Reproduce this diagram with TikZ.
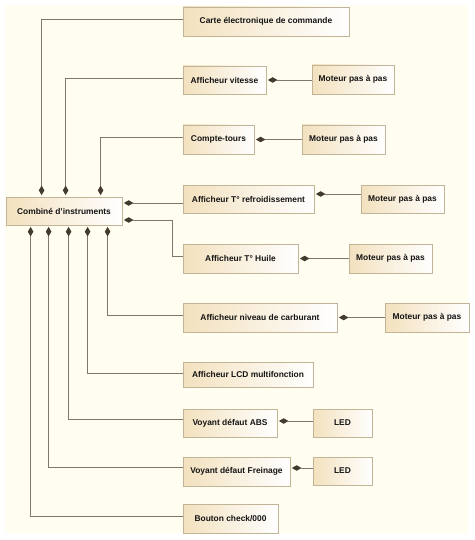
\documentclass[tikz,border=0pt]{standalone}
\usepackage{fontspec}
\setmainfont{Liberation Sans}
\usetikzlibrary{arrows.meta,calc}
\definecolor{bgcream}{HTML}{FFFEF0}
\definecolor{boxbeige}{HTML}{F3E1BE}
\definecolor{boxborder}{HTML}{C2B497}
\definecolor{linecol}{HTML}{80786A}
\definecolor{tipcol}{HTML}{433B2C}
\tikzset{
  box/.style={draw=boxborder, line width=0.8pt, left color=boxbeige, right color=white,
    minimum height=28pt, inner sep=0pt, text=black!92,
    font=\fontsize{8.4}{10}\selectfont\bfseries},
  conn/.style={draw=linecol, line width=0.9pt},
  dstart/.style={conn, {Diamond[length=9.5pt,width=5.5pt,color=tipcol]}-, shorten <=1.5pt},
  dend/.style={conn, -{Diamond[length=9.5pt,width=5.5pt,color=tipcol]}, shorten >=1.5pt},
}
\begin{document}
\begin{tikzpicture}[x=1pt,y=-1pt]
\useasboundingbox (0,0) rectangle (474,540);
\fill[white] (0,0) rectangle (474,540);
\fill[bgcream] (5,5) rectangle (468,533);

\node[box, minimum width=166pt, minimum height=29pt] (carte) at (266,21.5) {Carte électronique de commande};
\node[box, minimum width=83pt] (vit) at (224.5,80) {Afficheur vitesse};
\node[box, minimum width=82pt, minimum height=29pt] (m1) at (353,79.5) {Moteur pas à pas};
\node[box, minimum width=71pt, minimum height=29pt] (ct) at (218.5,139.5) {Compte-tours};
\node[box, minimum width=83pt, minimum height=29pt] (m2) at (343.5,139.5) {Moteur pas à pas};
\node[box, minimum width=116pt] (comb) at (64,211) {Combiné d'instruments};
\node[box, minimum width=131pt] (refr) at (248.5,199) {Afficheur T° refroidissement};
\node[box, minimum width=83pt] (m3) at (402.5,199) {Moteur pas à pas};
\node[box, minimum width=115pt, minimum height=29pt] (huile) at (240.5,258.5) {Afficheur T° Huile};
\node[box, minimum width=83pt, minimum height=29pt] (m4) at (390.5,258.5) {Moteur pas à pas};
\node[box, minimum width=154pt, minimum height=29pt] (niv) at (260,317.5) {Afficheur niveau de carburant};
\node[box, minimum width=84pt, minimum height=29pt] (m5) at (427,317.5) {Moteur pas à pas};
\node[box, minimum width=130pt, minimum height=25pt] (lcd) at (248,374.5) {Afficheur LCD multifonction};
\node[box, minimum width=94pt] (abs) at (230,423) {Voyant défaut ABS};
\node[box, minimum width=59pt] (led1) at (342.5,423) {LED};
\node[box, minimum width=107pt, minimum height=29pt] (frein) at (236.5,471.5) {Voyant défaut Freinage};
\node[box, minimum width=59pt] (led2) at (342.5,471) {LED};
\node[box, minimum width=95pt, minimum height=29pt] (bouton) at (230.5,518.5) {Bouton check/000};

% top connectors of the Combiné
\draw[dstart] ([xshift=36pt]comb.north west) |- ([yshift=2.5pt]carte.west);
\draw[dstart] ([xshift=60pt]comb.north west) |- ([yshift=2pt]vit.west);
\draw[dstart] ([xshift=95pt]comb.north west) |- ([yshift=2.5pt]ct.west);
% right connectors
\draw[dend] ([yshift=-4pt]refr.west) -- ([yshift=-4pt]refr.west -| comb.east);
\draw[dstart] ([yshift=-9pt]comb.east) -- ++(50pt,0) |- ([yshift=2.5pt]huile.west);
% bottom connectors
\draw[dstart] ([xshift=102pt]comb.south west) |- ([yshift=2.5pt]niv.west);
\draw[dstart] ([xshift=82pt]comb.south west) |- ([yshift=1.5pt]lcd.west);
\draw[dstart] ([xshift=63pt]comb.south west) |- ([yshift=4pt]abs.west);
\draw[dstart] ([xshift=43pt]comb.south west) |- ([yshift=4.5pt]frein.west);
\draw[dstart] ([xshift=25pt]comb.south west) |- ([yshift=2.5pt]bouton.west);

% component links
\draw[dstart] (vit.east) -- (vit.east -| m1.west);
\draw[dstart] (ct.east) -- (ct.east -| m2.west);
\draw[dstart] ([yshift=5pt]refr.east) -- ([yshift=5pt]refr.east -| m3.west);
\draw[dstart] (huile.east) -- (huile.east -| m4.west);
\draw[dstart] (niv.east) -- (niv.east -| m5.west);
\draw[dstart] ([yshift=2pt]abs.east) -- ([yshift=2pt]abs.east -| led1.west);
\draw[dstart] ([yshift=3.5pt]frein.east) -- ([yshift=3.5pt]frein.east -| led2.west);
\end{tikzpicture}
\end{document}
